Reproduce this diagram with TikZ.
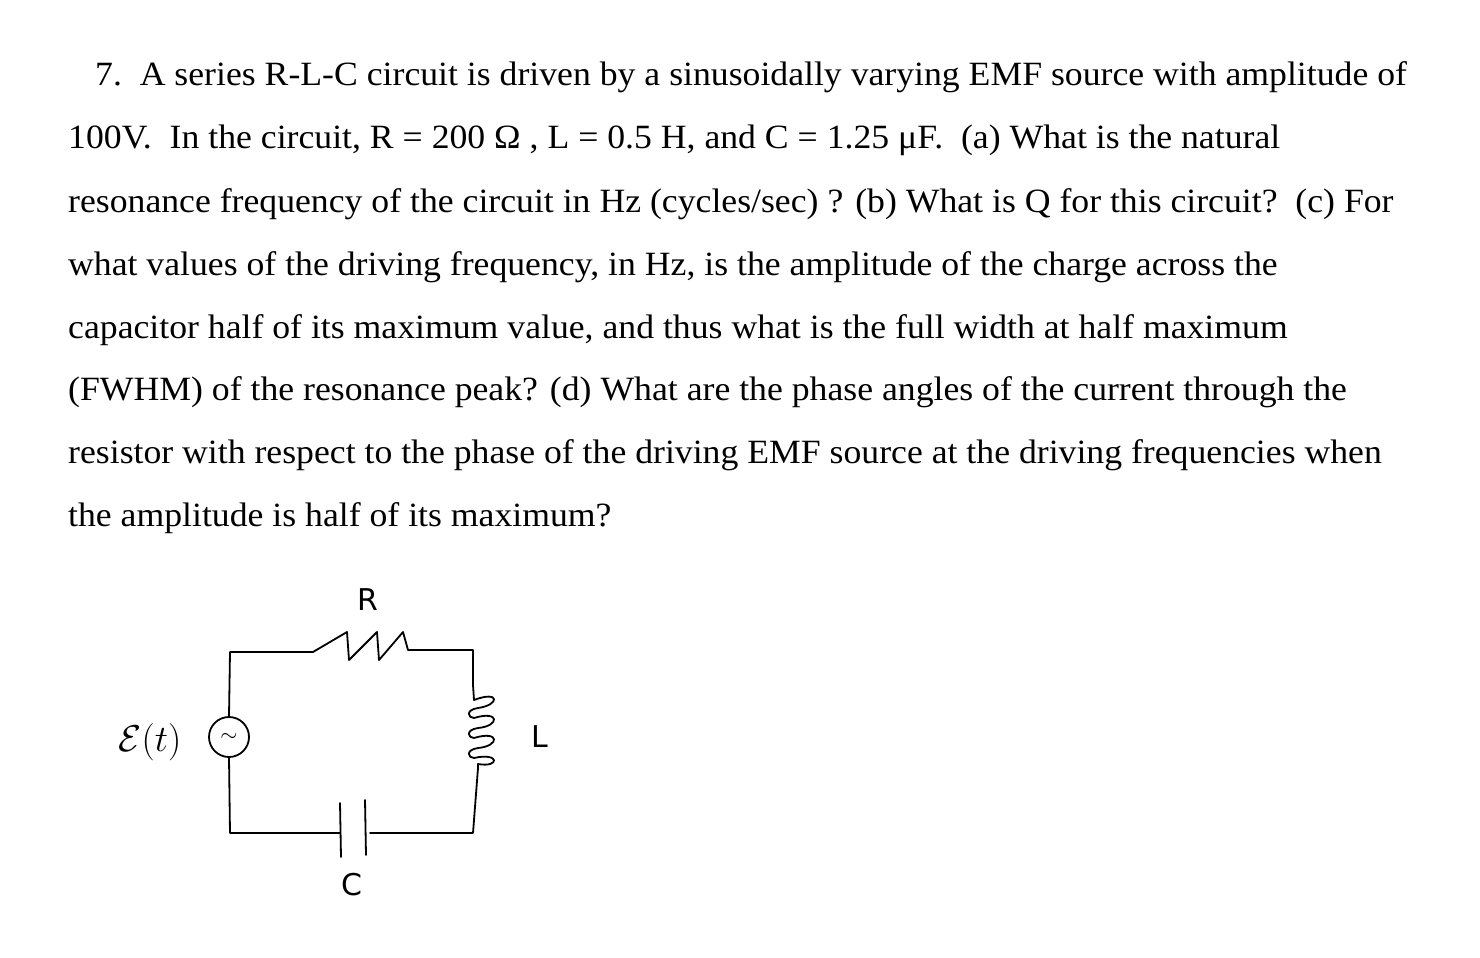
\documentclass[tikz,border=0pt]{standalone}
\usepackage{fontspec}
\usepackage{graphicx}
\setmainfont[FakeStretch=1.05]{Liberation Serif}
\newfontfamily\hand{DejaVu Sans}
\begin{document}
\begin{tikzpicture}[x=1pt,y=-1pt,
  txt/.style={anchor=base west,inner sep=0pt,font=\fontsize{34}{34}\selectfont},
  lab/.style={inner sep=0pt,font=\hand\fontsize{30}{30}\selectfont},
  wire/.style={line width=1.8pt,line cap=round,line join=round}]
\useasboundingbox (0,0) rectangle (1480,958);
\node[txt] (l1) at (95,85) {7.\ \ A series R-L-C circuit is driven by a sinusoidally varying EMF source with amplitude of};
\node[txt] (l2) at (68,148) {100V.\ \ In the circuit, R = 200 Ω , L = 0.5 H, and C = 1.25 μF.\ \ (a) What is the natural};
\node[txt] (l3) at (68,212) {resonance frequency of the circuit in Hz (cycles/sec) ? (b) What is Q for this circuit?\ \ (c) For};
\node[txt] (l4) at (68,275) {what values of the driving frequency, in Hz, is the amplitude of the charge across the};
\node[txt] (l5) at (68,338) {capacitor half of its maximum value, and thus what is the full width at half maximum};
\node[txt] (l6) at (68,400) {(FWHM) of the resonance peak? (d) What are the phase angles of the current through the};
\node[txt] (l7) at (68,463) {resistor with respect to the phase of the driving EMF source at the driving frequencies when};
\node[txt] (l8) at (68,526) {the amplitude is half of its maximum?};
% circuit
\node[draw,circle,line width=1.8pt,minimum size=40pt,inner sep=0pt] (src) at (229,737) {\scalebox{2.2}{$\sim$}};
\coordinate (tl) at (230,652); \coordinate (tr) at (473,650);
\coordinate (bl) at (230,833); \coordinate (br) at (473,833);
\coordinate (r1) at (313,652); \coordinate (r2) at (408,650);
\coordinate (i1) at (473,685); \coordinate (i2) at (478,768);
\coordinate (c1) at (340,833); \coordinate (c2) at (370,833);
\draw[wire] (src.north) -- (tl) -- (r1) -- (347,632) -- (349,660) -- (377,632) -- (379,660) -- (403,632) -- (408,650) -- (tr) -- (i1);
\draw[wire] (i1) -- (474,700)
  .. controls (500,690) and (500,705) .. (478,708)
  .. controls (465,710) and (468,718) .. (474,718)
  .. controls (500,710) and (500,726) .. (478,728)
  .. controls (465,730) and (468,738) .. (474,738)
  .. controls (500,730) and (500,746) .. (478,748)
  .. controls (465,750) and (468,758) .. (474,758)
  .. controls (500,752) and (500,768) .. (478,764) -- (i2) -- (br) -- (c2);
\draw[wire] (src.south) -- (bl) -- (c1);
\draw[wire] (340,803) -- (341,857);
\draw[wire] (365,800) -- (366,855);
\node[lab] (R) at (368,600) {R};
\node[lab] (L) at (540,737) {L};
\node[lab] (C) at (352,885) {C};
\node[lab] (E) at (150,742) {\scalebox{1.5}{$\mathcal{E}(t)$}};
\end{tikzpicture}
\end{document}
